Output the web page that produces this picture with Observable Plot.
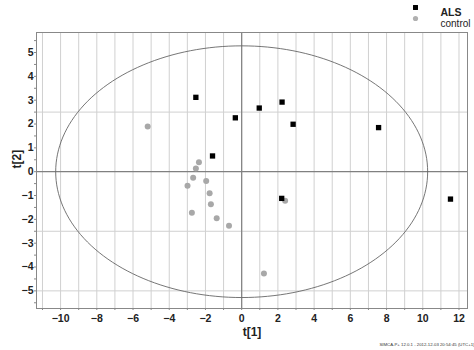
<!DOCTYPE html>
<html>
<head>
<meta charset="utf-8">
<script src="https://cdn.jsdelivr.net/npm/d3@7"></script>
<script src="https://cdn.jsdelivr.net/npm/@observablehq/plot@0.6"></script>
<style>
  html, body { margin: 0; padding: 0; background: #fff; }
  #chart { width: 474px; height: 350px; }
</style>
</head>
<body>
<div id="chart"></div>
<script>
// ALS scores (t[1], t[2])
const alsT1 = [-2.53, -0.35, 0.97, 2.23, 2.84, 7.56, -1.61, 2.21, 11.53];
const alsT2 = [3.12, 2.26, 2.67, 2.92, 1.99, 1.85, 0.66, -1.12, -1.15];
// control scores (t[1], t[2])
const ctlT1 = [-5.19, -2.36, -2.53, -2.68, -1.96, -2.99, -1.77, -1.70, -2.75, -1.38, -0.70, 2.40, 1.23];
const ctlT2 = [1.90, 0.40, 0.13, -0.25, -0.39, -0.59, -0.90, -1.37, -1.72, -1.95, -2.27, -1.22, -4.27];
// Hotelling T2 ellipse semi-axes
const ellA = 10.27, ellB = 5.28;
const xTicks = [-10, -8, -6, -4, -2, 0, 2, 4, 6, 8, 10, 12];
const yTicks = [-5, -4, -3, -2, -1, 0, 1, 2, 3, 4, 5];
const xGrid = d3.range(-11, 13, 1);
const yGrid = [2.5, -2.5, -5];
const xMinor = d3.range(-11, 12.5, 1);
const yMinor = d3.range(-5.5, 6, 0.5);
const footer = "SIMCA-P+ 12.0.1 - 2012-12-03 20:54:45 (UTC+1)";

const als = alsT1.map((x, i) => ({x, y: alsT2[i]}));
const ctl = ctlT1.map((x, i) => ({x, y: ctlT2[i]}));
const ellipse = d3.range(0, 361, 2).map(a => ({
  x: ellA * Math.cos(a * Math.PI / 180),
  y: ellB * Math.sin(a * Math.PI / 180)
}));

const font = "'Liberation Sans', Arial, sans-serif";

const chart = Plot.plot({
  width: 474,
  height: 350,
  marginTop: 32,
  marginLeft: 36,
  marginRight: 7,
  marginBottom: 42,
  style: {fontFamily: font, background: "#fff", overflow: "visible"},
  x: {domain: [-11.33, 12.47], label: null},
  y: {domain: [-5.74, 5.84], label: null},
  marks: [
    Plot.ruleX(xGrid, {stroke: "#d0d0d0", strokeWidth: 1}),
    Plot.ruleY(yGrid, {stroke: "#d0d0d0", strokeWidth: 1}),
    Plot.ruleX([0], {stroke: "#808080", strokeWidth: 1.2}),
    Plot.ruleY([0], {stroke: "#808080", strokeWidth: 1.2}),
    Plot.line(ellipse, {x: "x", y: "y", stroke: "#666", strokeWidth: 0.9}),
    Plot.frame({stroke: "#888"}),
    Plot.axisX({ticks: xMinor, tickSize: 2, tickFormat: () => "", stroke: "#888", label: null}),
    Plot.axisY({ticks: yMinor, tickSize: 2, tickFormat: () => "", stroke: "#888", label: null}),
    Plot.axisX({ticks: xTicks, tickSize: 0, tickPadding: 6, fontSize: 10.5, fontWeight: "bold", fill: "#222", label: null}),
    Plot.axisY({ticks: yTicks, tickSize: 0, tickPadding: 3, fontSize: 10.5, fontWeight: "bold", fill: "#222", label: null}),
    Plot.text(["t[1]"], {frameAnchor: "bottom", dy: 27, text: d => d, fontSize: 12, fontWeight: "bold", fill: "#222"}),
    Plot.text(["t[2]"], {frameAnchor: "left", dx: -19, dy: -2, text: d => d, rotate: -90, fontSize: 12, fontWeight: "bold", fill: "#222"}),
    Plot.dot(ctl, {x: "x", y: "y", r: 3, fill: "#a8a8a8", stroke: "none"}),
    Plot.dot(als, {x: "x", y: "y", symbol: "square", r: 3, fill: "#000", stroke: "none"}),
    // legend
    Plot.dot(["ALS"], {frameAnchor: "top-right", dx: -52, dy: -25, symbol: "square", r: 2.8, fill: "#000"}),
    Plot.dot(["control"], {frameAnchor: "top-right", dx: -52, dy: -14, r: 2.6, fill: "#b0b0b0"}),
    Plot.text(["ALS"], {frameAnchor: "top-right", dx: -27, dy: -24, textAnchor: "start", text: d => d, fontSize: 10.5, fontWeight: "bold", fill: "#222"}),
    Plot.text(["control"], {frameAnchor: "top-right", dx: -27, dy: -13, textAnchor: "start", text: d => d, fontSize: 10, fill: "#222"}),
    Plot.text([footer], {frameAnchor: "bottom-right", dx: 7, dy: 37, textAnchor: "end", text: d => d, fontSize: 4.3, fill: "#333"})
  ]
});
document.getElementById("chart").appendChild(chart);
</script>
</body>
</html>
